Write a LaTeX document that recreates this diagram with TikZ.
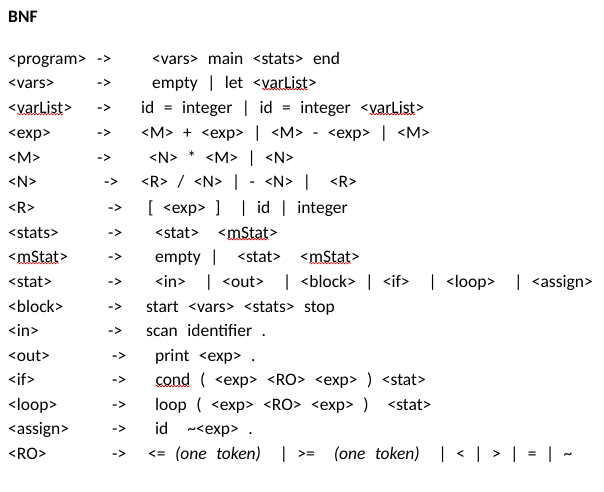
\documentclass[tikz,border=0pt]{standalone}
\usepackage{fontspec}
\setmainfont{Carlito}
\usetikzlibrary{decorations.pathmorphing}
\newcommand\rw[1]{\tikz[baseline=(w.base)]{\node[inner sep=0pt,outer sep=0pt](w){#1};\draw[red!85!black,line width=0.6pt,decorate,decoration={snake,amplitude=0.8pt,segment length=3pt}]([yshift=-1pt]w.south west)--([yshift=-1pt]w.south east);}}
\begin{document}
\begin{tikzpicture}[x=1pt,y=-1pt,t/.style={anchor=base west,inner sep=0pt,font=\fontsize{17.5}{20}\selectfont},
 rt/.style={t,execute at begin node={\spaceskip=9.5pt plus 1pt}}]
\useasboundingbox[fill=white] (0,0) rectangle (604,491);
\node[t,font=\fontsize{17.5}{20}\selectfont\bfseries] (title) at (8,22) {BNF};
\def\R#1#2#3#4#5#6{\node[t] (l#1) at (8,#2+6) {#3};\node[t] (a#1) at (#4,#2+6) {->};\node[rt] (r#1) at (#5,#2+6) {#6};}
\R{1}{58}{<program>}{97}{152}{<vars> main <stats> end}
\R{2}{82}{<vars>}{97}{152}{empty | let <\rw{varList}>}
\R{3}{107}{<\rw{varList}>}{97}{141}{id = integer | id = integer <\rw{varList}>}
\R{4}{132}{<exp>}{97}{141}{<M> + <exp> | <M> - <exp> | <M>}
\R{5}{157}{<M>}{97}{149}{<N> * <M> | <N>}
\R{6}{181}{<N>}{104}{141}{<R> / <N> | - <N> | \ <R>}
\R{7}{207}{<R>}{108}{148}{[ <exp> ] \ | id | integer}
\R{8}{232}{<stats>}{108}{155}{<stat> \ <\rw{mStat}>}
\R{9}{256}{<\rw{mStat}>}{108}{155}{empty | \ <stat> \ <\rw{mStat}>}
\R{10}{281}{<stat>}{108}{155}{<in> \ | <out> \ | <block> | <if> \ | <loop> \ | <assign>}
\R{11}{306}{<block>}{108}{146}{start <vars> <stats> stop}
\R{12}{330}{<in>}{108}{146}{scan identifier .}
\R{13}{355}{<out>}{112}{155}{print <exp> .}
\R{14}{379}{<if>}{112}{155}{\rw{cond} ( <exp> <RO> <exp> ) <stat>}
\R{15}{404}{<loop>}{112}{155}{loop ( <exp> <RO> <exp> ) \ <stat>}
\R{16}{428}{<assign>}{112}{155}{id \ \textasciitilde <exp> .}
\R{17}{453}{<RO>}{112}{148}{<= \textit{(one token)} \ | >= \ \textit{(one token)} \ | < | > | = | \textasciitilde}
\end{tikzpicture}
\end{document}
